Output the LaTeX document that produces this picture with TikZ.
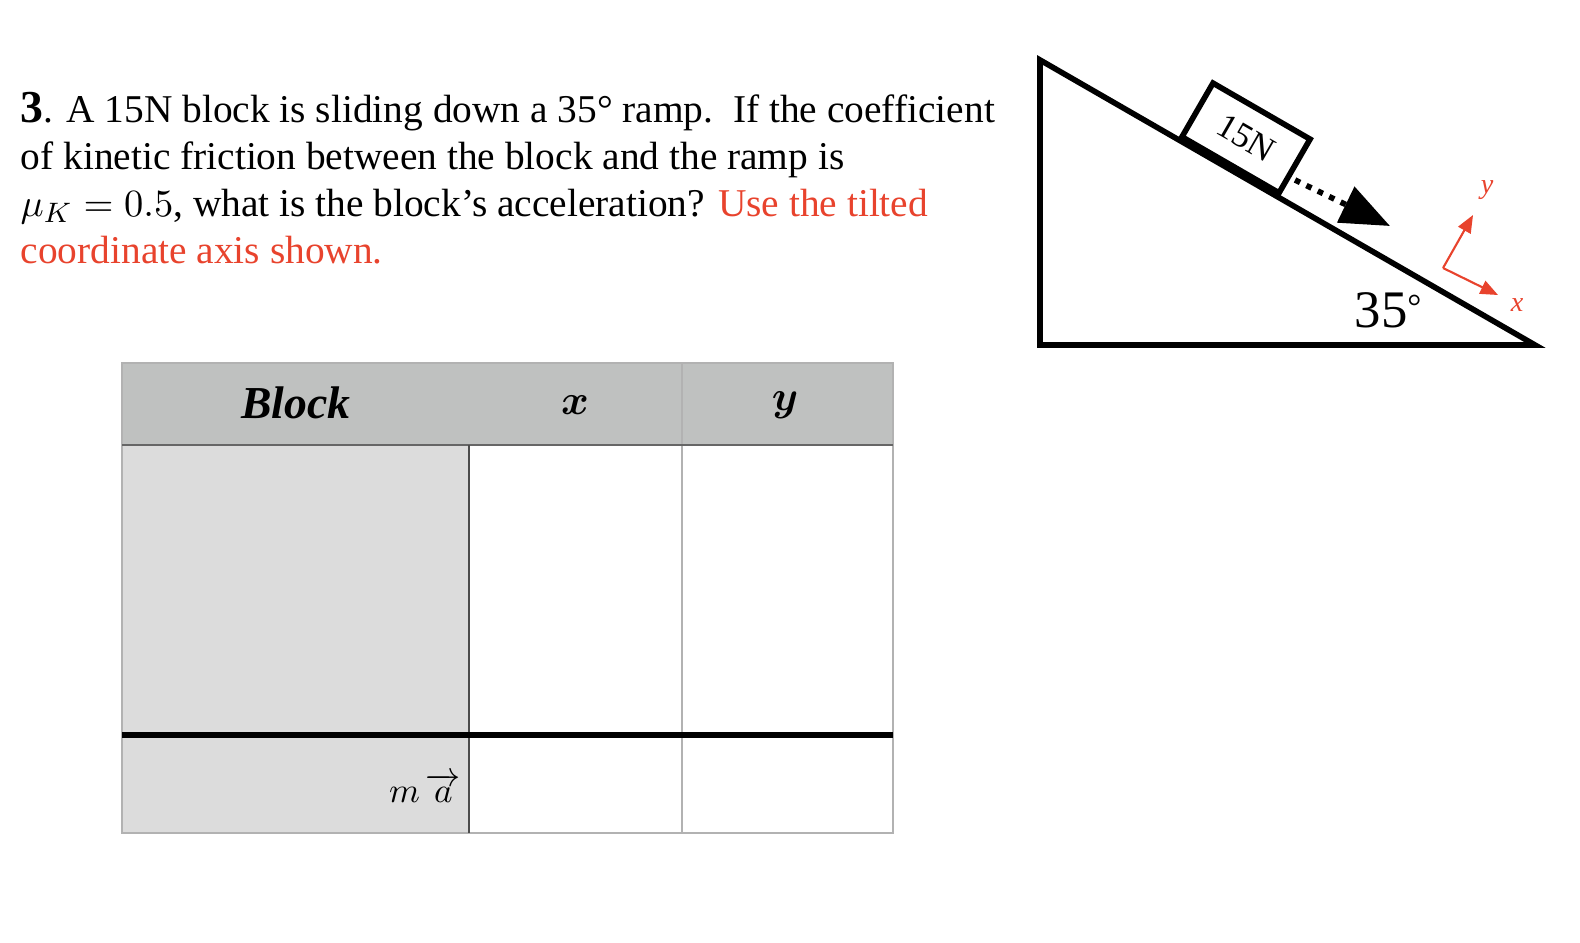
\documentclass[tikz,border=0pt]{standalone}
\usepackage{fontspec}
\setmainfont{Liberation Serif}
\usepackage{amsmath}
\usetikzlibrary{arrows.meta}
\definecolor{hdr}{HTML}{BFC1C0}
\definecolor{cellg}{HTML}{DCDCDC}
\definecolor{myred}{HTML}{E8432D}
\tikzset{ramp/.style={line width=1.6pt,line join=miter},
  redarr/.style={myred,line width=0.6pt,-{Triangle[length=5pt,width=4pt]}},
  grid/.style={draw=black!30,line width=0.4pt}}
\begin{document}
\begin{tikzpicture}[x=0.01cm,y=-0.01cm]
\useasboundingbox (0,0) rectangle (1580,942);
% text
\node[anchor=north west,align=left,inner sep=0,font=\fontsize{11.2}{13.3}\selectfont] (txt) at (20,92)
{\textbf{\fontsize{13}{13}\selectfont 3}. A 15N block is sliding down a 35° ramp.\ \ If the coefficient\\
of kinetic friction between the block and the ramp is\\
$\mu_K = 0.5$, what is the block's acceleration? \textcolor{myred}{Use the tilted}\\
\textcolor{myred}{coordinate axis shown.}};
% ramp
\coordinate (A) at (1040,60); \coordinate (B) at (1040,345); \coordinate (C) at (1535,345);
\draw[ramp] (A) -- (B) -- (C) -- cycle;
% block
\node[draw,line width=1.6pt,minimum width=1.12cm,minimum height=0.62cm,rotate=-30,fill=white,font=\fontsize{10}{10}\selectfont] (blk) at (1246,138) {15N};
\coordinate (d1) at (1295,180); \coordinate (d2) at (1390,226);
\draw[line width=1.6pt,dotted,-{Triangle[length=14pt,width=11pt]}] (d1) -- (d2);
\node[font=\fontsize{15}{15}\selectfont] (ang) at (1388,310) {35\raisebox{0.35ex}{\fontsize{10}{10}\selectfont°}};
% red axes
\coordinate (O) at (1443,268); \coordinate (Y) at (1473,215); \coordinate (X) at (1498,295);
\draw[redarr] (O) -- (Y);
\draw[redarr] (O) -- (X);
\node[myred,font=\itshape\fontsize{8}{8}\selectfont] (ly) at (1487,190) {y};
\node[myred,font=\itshape\fontsize{8}{8}\selectfont] (lx) at (1517,305) {x};
% table
\fill[hdr] (122,363) rectangle (893,445);
\fill[cellg] (122,445) rectangle (469,833);
\draw[grid] (122,363) rectangle (893,833);
\draw[grid] (682,363) -- (682,833);
\draw[black!60,line width=0.8pt] (122,445) -- (893,445);
\draw[black!70,line width=0.8pt] (469,445) -- (469,833);
\draw[black,line width=1.6pt] (122,735) -- (893,735);
\node[font=\bfseries\itshape\fontsize{13}{13}\selectfont] (hb) at (296,403) {Block};
\node[font=\fontsize{13}{13}\selectfont] (hx) at (575,405) {$\boldsymbol{x}$};
\node[font=\fontsize{13}{13}\selectfont] (hy) at (785,405) {$\boldsymbol{y}$};
\node[font=\fontsize{10}{10}\selectfont] (ma) at (425,788) {$m\,\overrightarrow{a}$};
\end{tikzpicture}
\end{document}
